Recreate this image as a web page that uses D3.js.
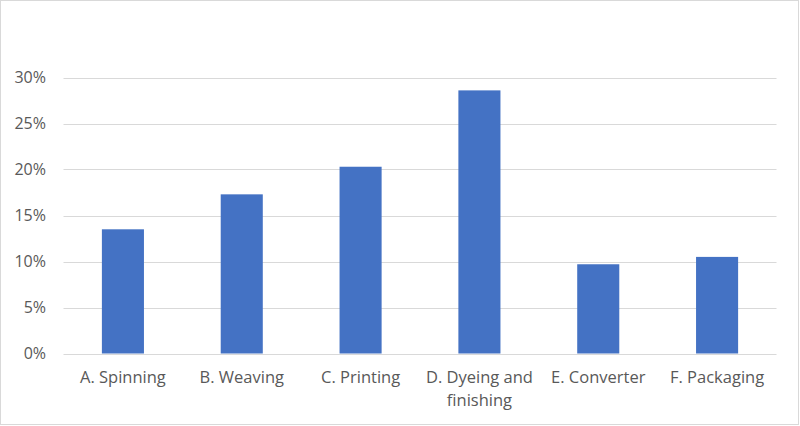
<!DOCTYPE html>
<html>
<head>
<meta charset="utf-8">
<script src="https://cdn.jsdelivr.net/npm/d3@7"></script>
<style>
  body { margin: 0; background: #fff; }
  svg text { font-family: "Open Sans", "Noto Sans", sans-serif; fill: #595959; }
</style>
</head>
<body>
<div class="chart"></div>
<script>
// data
var categories = ["A. Spinning", "B. Weaving", "C. Printing", "D. Dyeing and finishing", "E. Converter", "F. Packaging"];
var shares = [0.135, 0.173, 0.203, 0.286, 0.097, 0.105];
var yTicks = [0, 0.05, 0.10, 0.15, 0.20, 0.25, 0.30];

var width = 800, height = 426;
var margin = {top: 77.5, right: 23.5, bottom: 72.5, left: 63.5};

var svg = d3.select(".chart")
  .append("svg")
    .attr("width", width)
    .attr("height", height);

// chart area border
svg.append("rect")
  .attr("x", 0.5).attr("y", 0.5)
  .attr("width", width - 2).attr("height", height - 2)
  .attr("fill", "#fff")
  .attr("stroke", "#d9d9d9");

var x = d3.scaleBand()
  .domain(categories)
  .range([margin.left, width - margin.right])
  .paddingInner(0.646)
  .paddingOuter(0.323);

var y = d3.scaleLinear()
  .domain([0, 0.30])
  .range([height - margin.bottom, margin.top]);

// gridlines
svg.append("g")
  .selectAll("line")
  .data(yTicks)
  .enter().append("line")
    .attr("x1", margin.left)
    .attr("x2", width - margin.right)
    .attr("y1", function(d) { return Math.round(y(d)) + 0.5; })
    .attr("y2", function(d) { return Math.round(y(d)) + 0.5; })
    .style("stroke", "#d9d9d9")
    .style("stroke-width", 1);

// y tick labels
svg.append("g")
  .selectAll("text")
  .data(yTicks)
  .enter().append("text")
    .attr("x", 46)
    .attr("y", function(d) { return y(d); })
    .attr("dy", "0.36em")
    .style("text-anchor", "end")
    .style("font-size", "16px")
    .text(d3.format(".0%"));

// bars
svg.append("g")
  .selectAll("rect")
  .data(categories)
  .enter().append("rect")
    .attr("x", function(d) { return x(d); })
    .attr("width", x.bandwidth())
    .attr("y", function(d, i) { return y(shares[i]); })
    .attr("height", function(d, i) { return y(0) - y(shares[i]); })
    .style("fill", "#4472c4");

// x labels (wrap to fit the category width)
var labels = svg.append("g")
  .selectAll("text")
  .data(categories)
  .enter().append("text")
    .attr("y", 383)
    .style("text-anchor", "middle")
    .style("font-size", "16.5px");

labels.each(function(d) {
  var t = d3.select(this);
  var cx = x(d) + x.bandwidth() / 2;
  var lines = d == "D. Dyeing and finishing" ? ["D. Dyeing and", "finishing"] : [d];
  lines.forEach(function(s, i) {
    t.append("tspan")
      .attr("x", cx)
      .attr("dy", i == 0 ? 0 : 23)
      .text(s);
  });
});
</script>
</body>
</html>
